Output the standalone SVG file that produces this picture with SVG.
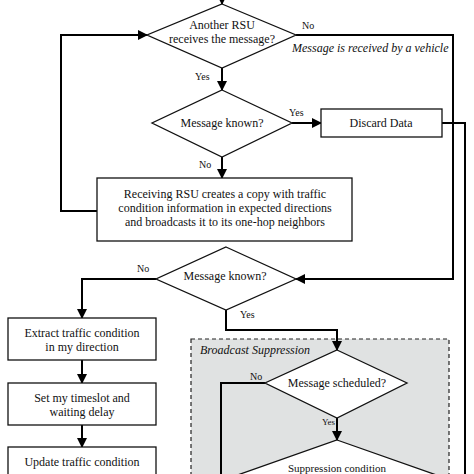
<svg xmlns="http://www.w3.org/2000/svg" width="474" height="474" viewBox="0 0 474 474" font-family="'Liberation Serif', 'DejaVu Serif', serif">
<defs>
<marker id="ah" markerWidth="10" markerHeight="10" refX="9" refY="5" orient="auto" markerUnits="userSpaceOnUse">
<path d="M0,0 L10,5 L0,10 Z" fill="#000"/>
</marker>
<style>
text{font-family:'Liberation Serif','DejaVu Serif',serif;fill:#111;}
.t{font-size:12px;text-anchor:middle;}
.l{font-size:10px;}
.i{font-size:12px;font-style:italic;}
.n{fill:#fff;stroke:#111;stroke-width:1.3;}
.c{fill:none;stroke:#000;stroke-width:2;}
</style>
</defs>
<rect width="474" height="474" fill="#fff"/>
<g id="suppression">
<rect x="191" y="339" width="258" height="150" fill="#e0e2e2" stroke="#222" stroke-width="1.2" stroke-dasharray="4,3"/>
<text class="i" x="200" y="354">Broadcast Suppression</text>
</g>
<g id="connectors">
<path class="c" d="M222,-10 V4" marker-end="url(#ah)"/>
<path class="c" d="M97,211 H61 V35 H147" marker-end="url(#ah)"/>
<path class="c" d="M296,35 H453 V279 H296" marker-end="url(#ah)"/>
<path class="c" d="M222,68 V90" marker-end="url(#ah)"/>
<path class="c" d="M292,123 H321" marker-end="url(#ah)"/>
<path class="c" d="M442,123 H465 V480"/>
<path class="c" d="M222,157 V178" marker-end="url(#ah)"/>
<path class="c" d="M156,279 H82 V318" marker-end="url(#ah)"/>
<path class="c" d="M226,310 V330 H337 V350" marker-end="url(#ah)"/>
<path class="c" d="M82,360 V383" marker-end="url(#ah)"/>
<path class="c" d="M82,425 V447" marker-end="url(#ah)"/>
<path class="c" d="M265,383 H221 V480"/>
<path class="c" d="M337,418 V440" marker-end="url(#ah)"/>
<text class="l" x="302" y="29">No</text>
<text class="i" x="292" y="52">Message is received by a vehicle</text>
<text class="l" x="195" y="80">Yes</text>
<text class="l" x="289" y="116">Yes</text>
<text class="l" x="199" y="168">No</text>
<text class="l" x="137" y="272">No</text>
<text class="l" x="240" y="318">Yes</text>
<text class="l" x="250" y="380">No</text>
<text class="l" x="322" y="425" style="font-size:9px">Yes</text>
</g>
<g id="d1">
<polygon class="n" points="222,4 296,35 222,68 147,35"/>
<text class="t" x="222" y="29">Another RSU</text>
<text class="t" x="222" y="43">receives the message?</text>
</g>
<g id="d2">
<polygon class="n" points="222,90 292,123 222,157 152,123"/>
<text class="t" x="222" y="127">Message known?</text>
</g>
<g id="discard">
<rect class="n" x="321" y="109" width="121" height="28"/>
<text class="t" x="381" y="127">Discard Data</text>
</g>
<g id="rsu">
<rect class="n" x="97" y="178" width="255" height="63"/>
<text class="t" x="225" y="198">Receiving RSU creates a copy with traffic</text>
<text class="t" x="225" y="212">condition information in expected directions</text>
<text class="t" x="225" y="226">and broadcasts it to its one-hop neighbors</text>
</g>
<g id="d3">
<polygon class="n" points="226,247 296,279 226,310 156,279"/>
<text class="t" x="225" y="280">Message known?</text>
</g>
<g id="extract">
<rect class="n" x="8" y="318" width="148" height="42"/>
<text class="t" x="82" y="337">Extract traffic condition</text>
<text class="t" x="82" y="351">in my direction</text>
</g>
<g id="timeslot">
<rect class="n" x="8" y="383" width="148" height="42"/>
<text class="t" x="82" y="402">Set my timeslot and</text>
<text class="t" x="82" y="416">waiting delay</text>
</g>
<g id="update">
<rect class="n" x="8" y="447" width="148" height="42"/>
<text class="t" x="82" y="466">Update traffic condition</text>
</g>
<g id="d5">
<polygon class="n" points="337,440 445,478 337,516 229,478"/>
<text class="t" x="337" y="472" style="font-size:11px">Suppression condition</text>
</g>
<g id="d4">
<polygon class="n" points="337,350 407,383 337,418 265,383"/>
<text class="t" x="337" y="387">Message scheduled?</text>
</g>
</svg>
